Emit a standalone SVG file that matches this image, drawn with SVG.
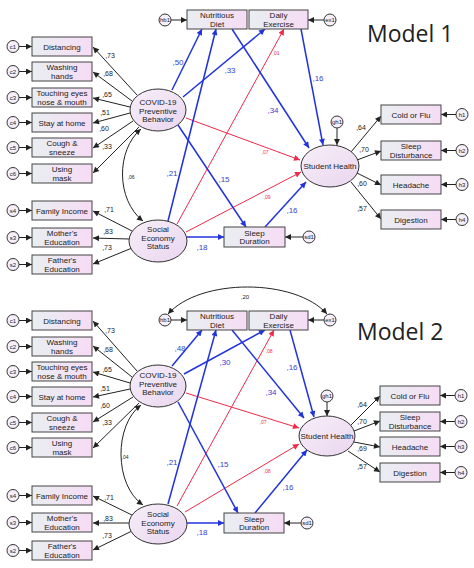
<svg xmlns="http://www.w3.org/2000/svg" width="474" height="568" viewBox="0 0 474 568">
<defs>
<linearGradient id="bg" x1="0" y1="0" x2="1" y2="0"><stop offset="0" stop-color="#e9eef1"/><stop offset="1" stop-color="#f6dcf5"/></linearGradient>
<linearGradient id="eg" x1="0" y1="0" x2="1" y2="1"><stop offset="0" stop-color="#f7eef8"/><stop offset="1" stop-color="#ead6ef"/></linearGradient>
<marker id="ak" viewBox="0 0 10 10" refX="10" refY="5" markerWidth="7" markerHeight="6" markerUnits="userSpaceOnUse" orient="auto-start-reverse"><path d="M0,0L10,5L0,10z" fill="#222"/></marker>
<marker id="ab" viewBox="0 0 10 10" refX="10" refY="5" markerWidth="8" markerHeight="6" markerUnits="userSpaceOnUse" orient="auto"><path d="M0,0L10,5L0,10z" fill="#2233dd"/></marker>
<marker id="ar" viewBox="0 0 10 10" refX="10" refY="5" markerWidth="8" markerHeight="6" markerUnits="userSpaceOnUse" orient="auto"><path d="M0,0L10,5L0,10z" fill="#ee2a4a"/></marker>
</defs>
<style>
text{font-family:"Liberation Sans",Arial,sans-serif;fill:#222}
.bx{fill:url(#bg);stroke:#444;stroke-width:1}
.el{fill:url(#eg);stroke:#333;stroke-width:1}
.ci{fill:#f6eef8;stroke:#333;stroke-width:1}
.t{font-size:8px;text-anchor:middle}
.tc{font-size:6px;text-anchor:middle}
.k{stroke:#222;stroke-width:1;fill:none;marker-end:url(#ak)}
.kk{stroke:#222;stroke-width:1;fill:none;marker-end:url(#ak);marker-start:url(#ak)}
.b{stroke:#2233dd;stroke-width:1.5;fill:none;marker-end:url(#ab)}
.r{stroke:#ee2a4a;stroke-width:1;fill:none;marker-end:url(#ar)}
.lk{font-size:7px;text-anchor:middle}
.lb{font-size:8px;text-anchor:middle;fill:#3344cc}
.lr{font-size:5px;text-anchor:middle;fill:#ee2a4a}
.title{font-family:"Open Sans","Liberation Sans",sans-serif;font-size:23px;fill:#222}
</style>

<text class="title" x="367" y="42">Model 1</text>
<text class="title" x="357" y="340">Model 2</text>

<g id="connectors">
<!-- Model 1 error arrows -->
<path class="k" d="M19,46.5H32"/><path class="k" d="M19,71.5H32"/><path class="k" d="M19,97.5H32"/><path class="k" d="M19,122.5H32"/><path class="k" d="M19,147.5H32"/><path class="k" d="M19,173.5H32"/><path class="k" d="M19,210.5H32"/><path class="k" d="M19,237.5H32"/><path class="k" d="M19,264.5H32"/>
<path class="k" d="M456,114.5H441"/><path class="k" d="M456,150.5H441"/><path class="k" d="M456,184.5H441"/><path class="k" d="M456,219.5H441"/>
<path class="k" d="M171,20H187"/><path class="k" d="M324,20H308"/><path class="k" d="M303,237H285"/><path class="k" d="M337,128V145"/>
<!-- Model 1 indicators -->
<path class="k" d="M137,95L93,47"/><path class="k" d="M132,101L93,72"/><path class="k" d="M130,107L93,98"/><path class="k" d="M130,113L93,123"/><path class="k" d="M133,121L93,148"/><path class="k" d="M139,127L93,173"/>
<path class="k" d="M132,231L93,211"/><path class="k" d="M129,239L93,238"/><path class="k" d="M132,248L93,264"/>
<path class="kk" d="M143,221C116,200 116,150 141,129"/>
<path class="k" d="M351,152L381,116"/><path class="k" d="M357,160L381,151"/><path class="k" d="M357,173L381,185"/><path class="k" d="M351,182L381,219"/>
<!-- Model 1 structural -->
<path class="r" d="M177,224L284,29"/><path class="r" d="M186,118L300,160"/><path class="r" d="M186,232L301,172"/>
<path class="b" d="M172,90L202,29"/><path class="b" d="M168,221L216,29"/><path class="b" d="M183,97L265,29"/><path class="b" d="M232,29L309,148"/><path class="b" d="M301,29L323,145"/><path class="b" d="M178,125L246,227"/><path class="b" d="M187,237H224"/><path class="b" d="M265,227L306,182"/>

<!-- Model 2 error arrows -->
<path class="k" d="M19,320.5H32"/><path class="k" d="M19,346.5H32"/><path class="k" d="M19,371.5H32"/><path class="k" d="M19,396.5H32"/><path class="k" d="M19,422.5H32"/><path class="k" d="M19,447.5H32"/><path class="k" d="M19,495.5H32"/><path class="k" d="M19,522.5H32"/><path class="k" d="M19,550.5H32"/>
<path class="k" d="M455,395.5H440"/><path class="k" d="M455,421.5H440"/><path class="k" d="M455,446.5H440"/><path class="k" d="M455,472.5H440"/>
<path class="k" d="M171,320H187"/><path class="k" d="M324,320H308"/><path class="k" d="M301,523H284"/><path class="k" d="M327,402V416"/>
<path class="kk" d="M168,314C200,278 295,278 327,314"/>
<!-- Model 2 indicators -->
<path class="k" d="M137,371L93,321"/><path class="k" d="M132,377L93,346"/><path class="k" d="M130,383L93,372"/><path class="k" d="M130,389L93,397"/><path class="k" d="M133,397L93,422"/><path class="k" d="M139,403L93,448"/>
<path class="k" d="M132,515L93,496"/><path class="k" d="M129,523L93,523"/><path class="k" d="M132,531L93,550"/>
<path class="kk" d="M143,505C114,485 114,425 141,405"/>
<path class="k" d="M350,426L380,396"/><path class="k" d="M354,431L380,421"/><path class="k" d="M354,442L380,447"/><path class="k" d="M348,451L380,472"/>
<!-- Model 2 structural -->
<path class="r" d="M177,506L274,330"/><path class="r" d="M186,393L299,428"/><path class="r" d="M185,512L299,444"/>
<path class="b" d="M172,366L202,330"/><path class="b" d="M168,504L216,330"/><path class="b" d="M184,374L265,330"/><path class="b" d="M232,330L304,418"/><path class="b" d="M290,330L314,417"/><path class="b" d="M178,402L238,513"/><path class="b" d="M187,523H224"/><path class="b" d="M255,513L307,450"/>
</g>

<g id="coef-labels">
<text class="lk" x="110" y="58">,73</text><text class="lk" x="108" y="76">,68</text><text class="lk" x="107" y="97">,65</text><text class="lk" x="105" y="115">,51</text><text class="lk" x="104" y="131">,60</text><text class="lk" x="107" y="149">,33</text>
<text class="lk" x="109" y="212">,71</text><text class="lk" x="108" y="234">,83</text><text class="lk" x="107" y="250">,73</text>
<text class="lk" x="131" y="179" style="font-size:5px">,06</text>
<text class="lk" x="361" y="130">,64</text><text class="lk" x="364" y="152">,70</text><text class="lk" x="362" y="186">,60</text><text class="lk" x="362" y="211">,57</text>
<text class="lb" x="178" y="65">,50</text><text class="lb" x="172" y="176">,21</text><text class="lb" x="230" y="73">,33</text><text class="lb" x="273" y="113">,34</text><text class="lb" x="318" y="81">,16</text><text class="lb" x="224" y="182">,15</text><text class="lb" x="202" y="250">,18</text><text class="lb" x="292" y="213">,16</text>
<text class="lr" x="276" y="55">,01</text><text class="lr" x="265" y="154">,07</text><text class="lr" x="267" y="199">,09</text>

<text class="lk" x="110" y="333">,73</text><text class="lk" x="108" y="352">,68</text><text class="lk" x="107" y="372">,65</text><text class="lk" x="105" y="391">,51</text><text class="lk" x="105" y="408">,60</text><text class="lk" x="107" y="425">,33</text>
<text class="lk" x="109" y="500">,71</text><text class="lk" x="108" y="521">,83</text><text class="lk" x="107" y="538">,73</text>
<text class="lk" x="125" y="459" style="font-size:5px">,04</text>
<text class="lk" x="245" y="299" style="font-size:6px">,20</text>
<text class="lk" x="362" y="407">,64</text><text class="lk" x="362" y="424">,70</text><text class="lk" x="362" y="451">,69</text><text class="lk" x="362" y="469">,57</text>
<text class="lb" x="180" y="351">,48</text><text class="lb" x="172" y="465">,21</text><text class="lb" x="225" y="365">,30</text><text class="lb" x="271" y="395">,34</text><text class="lb" x="292" y="370">,16</text><text class="lb" x="223" y="467">,15</text><text class="lb" x="202" y="535">,18</text><text class="lb" x="288" y="490">,16</text>
<text class="lr" x="269" y="353">,08</text><text class="lr" x="263" y="424">,07</text><text class="lr" x="267" y="473">,08</text>
</g>

<!-- Model 1 nodes -->
<g id="m1-distancing"><rect class="bx" x="32" y="37" width="60" height="19"/><text class="t" x="62" y="49.5">Distancing</text></g>
<g id="m1-washing"><rect class="bx" x="32" y="62" width="60" height="19"/><text class="t" x="62" y="70">Washing</text><text class="t" x="62" y="78.5">hands</text></g>
<g id="m1-touching"><rect class="bx" x="32" y="88" width="60" height="19"/><text class="t" x="62" y="96">Touching eyes</text><text class="t" x="62" y="104.5">nose &amp; mouth</text></g>
<g id="m1-stay"><rect class="bx" x="32" y="113" width="60" height="19"/><text class="t" x="62" y="125.5">Stay at home</text></g>
<g id="m1-cough"><rect class="bx" x="32" y="138" width="60" height="19"/><text class="t" x="62" y="146">Cough &amp;</text><text class="t" x="62" y="154.5">sneeze</text></g>
<g id="m1-mask"><rect class="bx" x="32" y="164" width="60" height="19"/><text class="t" x="62" y="172">Using</text><text class="t" x="62" y="180.5">mask</text></g>
<g id="m1-income"><rect class="bx" x="32" y="201" width="60" height="19"/><text class="t" x="62" y="213.5">Family Income</text></g>
<g id="m1-mother"><rect class="bx" x="32" y="228" width="60" height="19"/><text class="t" x="62" y="236">Mother's</text><text class="t" x="62" y="244.5">Education</text></g>
<g id="m1-father"><rect class="bx" x="32" y="255" width="60" height="19"/><text class="t" x="62" y="263">Father's</text><text class="t" x="62" y="271.5">Education</text></g>
<g id="m1-errors-left">
<circle class="ci" cx="13" cy="46.5" r="6"/><text class="tc" x="13" y="48.5">c1</text>
<circle class="ci" cx="13" cy="71.5" r="6"/><text class="tc" x="13" y="73.5">c2</text>
<circle class="ci" cx="13" cy="97.5" r="6"/><text class="tc" x="13" y="99.5">c3</text>
<circle class="ci" cx="13" cy="122.5" r="6"/><text class="tc" x="13" y="124.5">c4</text>
<circle class="ci" cx="13" cy="147.5" r="6"/><text class="tc" x="13" y="149.5">c5</text>
<circle class="ci" cx="13" cy="173.5" r="6"/><text class="tc" x="13" y="175.5">c6</text>
<circle class="ci" cx="13" cy="210.5" r="6"/><text class="tc" x="13" y="212.5">s4</text>
<circle class="ci" cx="13" cy="237.5" r="6"/><text class="tc" x="13" y="239.5">s3</text>
<circle class="ci" cx="13" cy="264.5" r="6"/><text class="tc" x="13" y="266.5">s2</text>
</g>
<g id="m1-covid"><ellipse class="el" cx="158" cy="110" rx="28" ry="21"/><text class="t" x="158" y="105">COVID-19</text><text class="t" x="158" y="113.5">Preventive</text><text class="t" x="158" y="122">Behavior</text></g>
<g id="m1-ses"><ellipse class="el" cx="158" cy="241" rx="29" ry="21"/><text class="t" x="158" y="232">Social</text><text class="t" x="158" y="240.5">Economy</text><text class="t" x="158" y="249">Status</text></g>
<g id="m1-diet"><rect class="bx" x="187" y="10" width="60" height="19"/><text class="t" x="217" y="18">Nutritious</text><text class="t" x="217" y="26.5">Diet</text></g>
<g id="m1-exercise"><rect class="bx" x="249" y="10" width="59" height="19"/><text class="t" x="278.5" y="18">Daily</text><text class="t" x="278.5" y="26.5">Exercise</text></g>
<g id="m1-hb1"><circle class="ci" cx="165" cy="20" r="6"/><text class="tc" x="165" y="22">hb1</text></g>
<g id="m1-ex1"><circle class="ci" cx="330" cy="20" r="6"/><text class="tc" x="330" y="22">ex1</text></g>
<g id="m1-health"><ellipse class="el" cx="330" cy="166" rx="29" ry="21"/><text class="t" x="330" y="169">Student Health</text></g>
<g id="m1-gh1"><circle class="ci" cx="337" cy="122" r="6"/><text class="tc" x="337" y="124">gh1</text></g>
<g id="m1-sleepdur"><rect class="bx" x="224" y="227" width="61" height="20"/><text class="t" x="254.5" y="235.5">Sleep</text><text class="t" x="254.5" y="244">Duration</text></g>
<g id="m1-sd1"><circle class="ci" cx="309" cy="237" r="6"/><text class="tc" x="309" y="239">sd1</text></g>
<g id="m1-cold"><rect class="bx" x="381" y="105" width="60" height="19"/><text class="t" x="411" y="117.5">Cold or Flu</text></g>
<g id="m1-sleepdist"><rect class="bx" x="381" y="141" width="60" height="19"/><text class="t" x="411" y="149">Sleep</text><text class="t" x="411" y="157.5">Disturbance</text></g>
<g id="m1-headache"><rect class="bx" x="381" y="175" width="60" height="19"/><text class="t" x="411" y="187.5">Headache</text></g>
<g id="m1-digestion"><rect class="bx" x="381" y="210" width="60" height="19"/><text class="t" x="411" y="222.5">Digestion</text></g>
<g id="m1-errors-right">
<circle class="ci" cx="462" cy="114.5" r="6"/><text class="tc" x="462" y="116.5">h1</text>
<circle class="ci" cx="462" cy="150.5" r="6"/><text class="tc" x="462" y="152.5">h2</text>
<circle class="ci" cx="462" cy="184.5" r="6"/><text class="tc" x="462" y="186.5">h3</text>
<circle class="ci" cx="462" cy="219.5" r="6"/><text class="tc" x="462" y="221.5">h4</text>
</g>

<!-- Model 2 nodes -->
<g id="m2-distancing"><rect class="bx" x="32" y="311" width="60" height="19"/><text class="t" x="62" y="323.5">Distancing</text></g>
<g id="m2-washing"><rect class="bx" x="32" y="337" width="60" height="19"/><text class="t" x="62" y="345">Washing</text><text class="t" x="62" y="353.5">hands</text></g>
<g id="m2-touching"><rect class="bx" x="32" y="362" width="60" height="19"/><text class="t" x="62" y="370">Touching eyes</text><text class="t" x="62" y="378.5">nose &amp; mouth</text></g>
<g id="m2-stay"><rect class="bx" x="32" y="387" width="60" height="19"/><text class="t" x="62" y="399.5">Stay at home</text></g>
<g id="m2-cough"><rect class="bx" x="32" y="413" width="60" height="19"/><text class="t" x="62" y="421">Cough &amp;</text><text class="t" x="62" y="429.5">sneeze</text></g>
<g id="m2-mask"><rect class="bx" x="32" y="438" width="60" height="19"/><text class="t" x="62" y="446">Using</text><text class="t" x="62" y="454.5">mask</text></g>
<g id="m2-income"><rect class="bx" x="32" y="486" width="60" height="19"/><text class="t" x="62" y="498.5">Family Income</text></g>
<g id="m2-mother"><rect class="bx" x="32" y="513" width="60" height="19"/><text class="t" x="62" y="521">Mother's</text><text class="t" x="62" y="529.5">Education</text></g>
<g id="m2-father"><rect class="bx" x="32" y="541" width="60" height="19"/><text class="t" x="62" y="549">Father's</text><text class="t" x="62" y="557.5">Education</text></g>
<g id="m2-errors-left">
<circle class="ci" cx="13" cy="320.5" r="6"/><text class="tc" x="13" y="322.5">c1</text>
<circle class="ci" cx="13" cy="346.5" r="6"/><text class="tc" x="13" y="348.5">c2</text>
<circle class="ci" cx="13" cy="371.5" r="6"/><text class="tc" x="13" y="373.5">c3</text>
<circle class="ci" cx="13" cy="396.5" r="6"/><text class="tc" x="13" y="398.5">c4</text>
<circle class="ci" cx="13" cy="422.5" r="6"/><text class="tc" x="13" y="424.5">c5</text>
<circle class="ci" cx="13" cy="447.5" r="6"/><text class="tc" x="13" y="449.5">c6</text>
<circle class="ci" cx="13" cy="495.5" r="6"/><text class="tc" x="13" y="497.5">s4</text>
<circle class="ci" cx="13" cy="522.5" r="6"/><text class="tc" x="13" y="524.5">s3</text>
<circle class="ci" cx="13" cy="550.5" r="6"/><text class="tc" x="13" y="552.5">s2</text>
</g>
<g id="m2-covid"><ellipse class="el" cx="158" cy="386" rx="28" ry="21"/><text class="t" x="158" y="378">COVID-19</text><text class="t" x="158" y="386.5">Preventive</text><text class="t" x="158" y="395">Behavior</text></g>
<g id="m2-ses"><ellipse class="el" cx="158" cy="524" rx="29" ry="20"/><text class="t" x="158" y="517">Social</text><text class="t" x="158" y="525.5">Economy</text><text class="t" x="158" y="534">Status</text></g>
<g id="m2-diet"><rect class="bx" x="187" y="311" width="60" height="19"/><text class="t" x="217" y="319">Nutritious</text><text class="t" x="217" y="327.5">Diet</text></g>
<g id="m2-exercise"><rect class="bx" x="249" y="311" width="59" height="19"/><text class="t" x="278.5" y="319">Daily</text><text class="t" x="278.5" y="327.5">Exercise</text></g>
<g id="m2-hb1"><circle class="ci" cx="165" cy="320" r="6"/><text class="tc" x="165" y="322">hb1</text></g>
<g id="m2-ex1"><circle class="ci" cx="330" cy="320" r="6"/><text class="tc" x="330" y="322">ex1</text></g>
<g id="m2-health"><ellipse class="el" cx="327" cy="436" rx="28" ry="20"/><text class="t" x="327" y="439">Student Health</text></g>
<g id="m2-gh1"><circle class="ci" cx="327" cy="396" r="6"/><text class="tc" x="327" y="398">gh1</text></g>
<g id="m2-sleepdur"><rect class="bx" x="224" y="513" width="60" height="20"/><text class="t" x="254" y="521.5">Sleep</text><text class="t" x="254" y="530">Duration</text></g>
<g id="m2-sd1"><circle class="ci" cx="307" cy="523" r="6"/><text class="tc" x="307" y="525">sd1</text></g>
<g id="m2-cold"><rect class="bx" x="380" y="386" width="60" height="19"/><text class="t" x="410" y="398.5">Cold or Flu</text></g>
<g id="m2-sleepdist"><rect class="bx" x="380" y="412" width="60" height="19"/><text class="t" x="410" y="420">Sleep</text><text class="t" x="410" y="428.5">Disturbance</text></g>
<g id="m2-headache"><rect class="bx" x="380" y="437" width="60" height="19"/><text class="t" x="410" y="449.5">Headache</text></g>
<g id="m2-digestion"><rect class="bx" x="380" y="463" width="60" height="19"/><text class="t" x="410" y="475.5">Digestion</text></g>
<g id="m2-errors-right">
<circle class="ci" cx="461" cy="395.5" r="6"/><text class="tc" x="461" y="397.5">h1</text>
<circle class="ci" cx="461" cy="421.5" r="6"/><text class="tc" x="461" y="423.5">h2</text>
<circle class="ci" cx="461" cy="446.5" r="6"/><text class="tc" x="461" y="448.5">h3</text>
<circle class="ci" cx="461" cy="472.5" r="6"/><text class="tc" x="461" y="474.5">h4</text>
</g>
</svg>
